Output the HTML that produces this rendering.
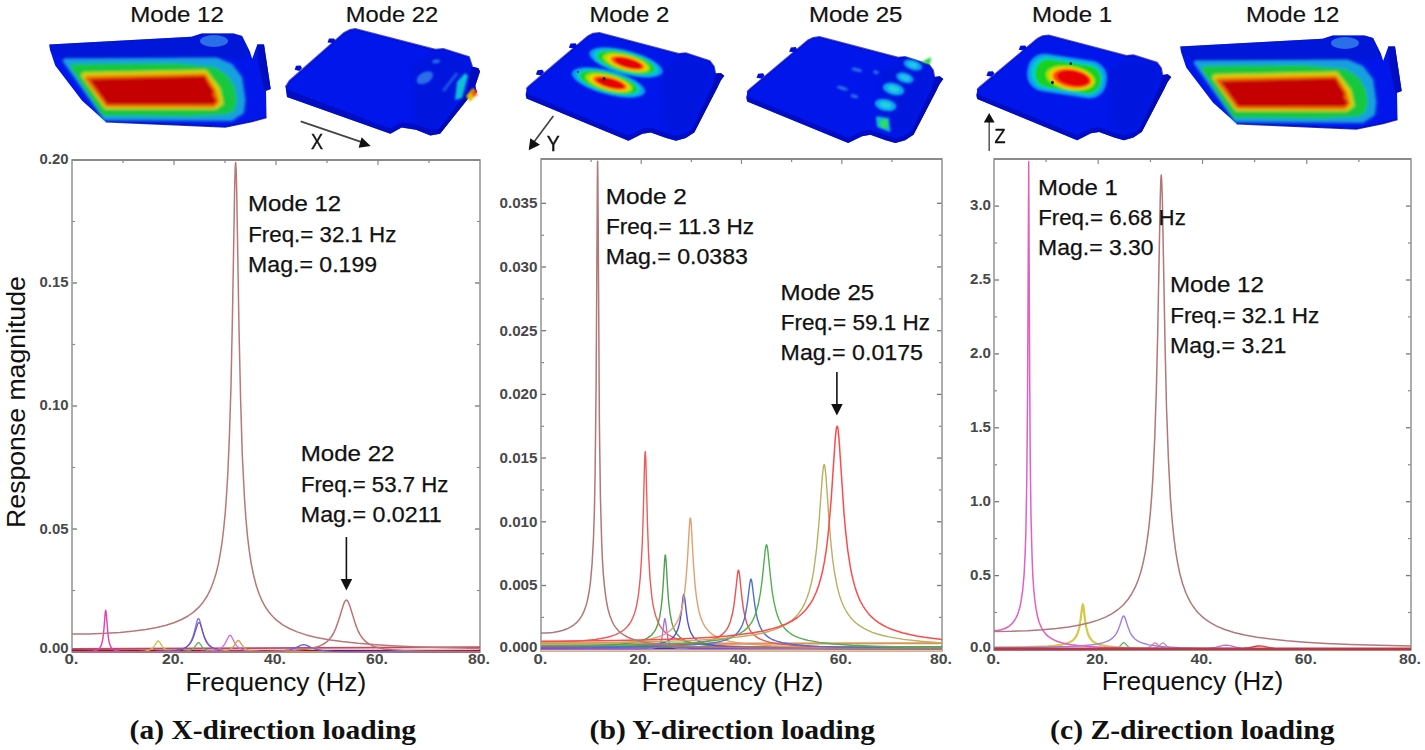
<!DOCTYPE html>
<html><head><meta charset="utf-8"><style>
html,body{margin:0;padding:0;background:#fff;overflow:hidden;}
svg{display:block;}
</style></head><body>
<svg width="1425" height="750" viewBox="0 0 1425 750">
<rect width="1425" height="750" fill="#fff"/>
<line x1="72.0" y1="529.0" x2="77.0" y2="529.0" stroke="#777" stroke-width="1.3"/>
<line x1="480.0" y1="529.0" x2="475.0" y2="529.0" stroke="#777" stroke-width="1.3"/>
<line x1="72.0" y1="406.0" x2="77.0" y2="406.0" stroke="#777" stroke-width="1.3"/>
<line x1="480.0" y1="406.0" x2="475.0" y2="406.0" stroke="#777" stroke-width="1.3"/>
<line x1="72.0" y1="283.0" x2="77.0" y2="283.0" stroke="#777" stroke-width="1.3"/>
<line x1="480.0" y1="283.0" x2="475.0" y2="283.0" stroke="#777" stroke-width="1.3"/>
<line x1="72.0" y1="160.0" x2="77.0" y2="160.0" stroke="#777" stroke-width="1.3"/>
<line x1="480.0" y1="160.0" x2="475.0" y2="160.0" stroke="#777" stroke-width="1.3"/>
<line x1="72.0" y1="590.5" x2="75.0" y2="590.5" stroke="#888" stroke-width="1.2"/>
<line x1="480.0" y1="590.5" x2="477.0" y2="590.5" stroke="#888" stroke-width="1.2"/>
<line x1="72.0" y1="467.5" x2="75.0" y2="467.5" stroke="#888" stroke-width="1.2"/>
<line x1="480.0" y1="467.5" x2="477.0" y2="467.5" stroke="#888" stroke-width="1.2"/>
<line x1="72.0" y1="344.5" x2="75.0" y2="344.5" stroke="#888" stroke-width="1.2"/>
<line x1="480.0" y1="344.5" x2="477.0" y2="344.5" stroke="#888" stroke-width="1.2"/>
<line x1="72.0" y1="221.5" x2="75.0" y2="221.5" stroke="#888" stroke-width="1.2"/>
<line x1="480.0" y1="221.5" x2="477.0" y2="221.5" stroke="#888" stroke-width="1.2"/>
<line x1="123.0" y1="160.0" x2="123.0" y2="163.0" stroke="#888" stroke-width="1.2"/>
<line x1="174.0" y1="160.0" x2="174.0" y2="165.0" stroke="#888" stroke-width="1.2"/>
<line x1="225.0" y1="160.0" x2="225.0" y2="163.0" stroke="#888" stroke-width="1.2"/>
<line x1="276.0" y1="160.0" x2="276.0" y2="165.0" stroke="#888" stroke-width="1.2"/>
<line x1="327.0" y1="160.0" x2="327.0" y2="163.0" stroke="#888" stroke-width="1.2"/>
<line x1="378.0" y1="160.0" x2="378.0" y2="165.0" stroke="#888" stroke-width="1.2"/>
<line x1="429.0" y1="160.0" x2="429.0" y2="163.0" stroke="#888" stroke-width="1.2"/>
<rect x="72.0" y="160.0" width="408.0" height="492.0" fill="none" stroke="#999" stroke-width="1.6"/>
<line x1="72.0" y1="160.0" x2="480.0" y2="160.0" stroke="#808080" stroke-width="1.6"/>
<line x1="541.0" y1="649.2" x2="546.0" y2="649.2" stroke="#777" stroke-width="1.3"/>
<line x1="942.0" y1="649.2" x2="937.0" y2="649.2" stroke="#777" stroke-width="1.3"/>
<line x1="541.0" y1="585.5" x2="546.0" y2="585.5" stroke="#777" stroke-width="1.3"/>
<line x1="942.0" y1="585.5" x2="937.0" y2="585.5" stroke="#777" stroke-width="1.3"/>
<line x1="541.0" y1="521.8" x2="546.0" y2="521.8" stroke="#777" stroke-width="1.3"/>
<line x1="942.0" y1="521.8" x2="937.0" y2="521.8" stroke="#777" stroke-width="1.3"/>
<line x1="541.0" y1="458.1" x2="546.0" y2="458.1" stroke="#777" stroke-width="1.3"/>
<line x1="942.0" y1="458.1" x2="937.0" y2="458.1" stroke="#777" stroke-width="1.3"/>
<line x1="541.0" y1="394.4" x2="546.0" y2="394.4" stroke="#777" stroke-width="1.3"/>
<line x1="942.0" y1="394.4" x2="937.0" y2="394.4" stroke="#777" stroke-width="1.3"/>
<line x1="541.0" y1="330.7" x2="546.0" y2="330.7" stroke="#777" stroke-width="1.3"/>
<line x1="942.0" y1="330.7" x2="937.0" y2="330.7" stroke="#777" stroke-width="1.3"/>
<line x1="541.0" y1="267.0" x2="546.0" y2="267.0" stroke="#777" stroke-width="1.3"/>
<line x1="942.0" y1="267.0" x2="937.0" y2="267.0" stroke="#777" stroke-width="1.3"/>
<line x1="541.0" y1="203.3" x2="546.0" y2="203.3" stroke="#777" stroke-width="1.3"/>
<line x1="942.0" y1="203.3" x2="937.0" y2="203.3" stroke="#777" stroke-width="1.3"/>
<line x1="541.0" y1="617.4" x2="544.0" y2="617.4" stroke="#888" stroke-width="1.2"/>
<line x1="942.0" y1="617.4" x2="939.0" y2="617.4" stroke="#888" stroke-width="1.2"/>
<line x1="541.0" y1="553.7" x2="544.0" y2="553.7" stroke="#888" stroke-width="1.2"/>
<line x1="942.0" y1="553.7" x2="939.0" y2="553.7" stroke="#888" stroke-width="1.2"/>
<line x1="541.0" y1="490.0" x2="544.0" y2="490.0" stroke="#888" stroke-width="1.2"/>
<line x1="942.0" y1="490.0" x2="939.0" y2="490.0" stroke="#888" stroke-width="1.2"/>
<line x1="541.0" y1="426.3" x2="544.0" y2="426.3" stroke="#888" stroke-width="1.2"/>
<line x1="942.0" y1="426.3" x2="939.0" y2="426.3" stroke="#888" stroke-width="1.2"/>
<line x1="541.0" y1="362.6" x2="544.0" y2="362.6" stroke="#888" stroke-width="1.2"/>
<line x1="942.0" y1="362.6" x2="939.0" y2="362.6" stroke="#888" stroke-width="1.2"/>
<line x1="541.0" y1="298.9" x2="544.0" y2="298.9" stroke="#888" stroke-width="1.2"/>
<line x1="942.0" y1="298.9" x2="939.0" y2="298.9" stroke="#888" stroke-width="1.2"/>
<line x1="541.0" y1="235.2" x2="544.0" y2="235.2" stroke="#888" stroke-width="1.2"/>
<line x1="942.0" y1="235.2" x2="939.0" y2="235.2" stroke="#888" stroke-width="1.2"/>
<line x1="591.1" y1="159.0" x2="591.1" y2="162.0" stroke="#888" stroke-width="1.2"/>
<line x1="641.2" y1="159.0" x2="641.2" y2="164.0" stroke="#888" stroke-width="1.2"/>
<line x1="691.4" y1="159.0" x2="691.4" y2="162.0" stroke="#888" stroke-width="1.2"/>
<line x1="741.5" y1="159.0" x2="741.5" y2="164.0" stroke="#888" stroke-width="1.2"/>
<line x1="791.6" y1="159.0" x2="791.6" y2="162.0" stroke="#888" stroke-width="1.2"/>
<line x1="841.8" y1="159.0" x2="841.8" y2="164.0" stroke="#888" stroke-width="1.2"/>
<line x1="891.9" y1="159.0" x2="891.9" y2="162.0" stroke="#888" stroke-width="1.2"/>
<rect x="541.0" y="159.0" width="401.0" height="492.0" fill="none" stroke="#999" stroke-width="1.6"/>
<line x1="541.0" y1="159.0" x2="942.0" y2="159.0" stroke="#808080" stroke-width="1.6"/>
<line x1="994.0" y1="649.5" x2="999.0" y2="649.5" stroke="#777" stroke-width="1.3"/>
<line x1="1411.0" y1="649.5" x2="1406.0" y2="649.5" stroke="#777" stroke-width="1.3"/>
<line x1="994.0" y1="575.6" x2="999.0" y2="575.6" stroke="#777" stroke-width="1.3"/>
<line x1="1411.0" y1="575.6" x2="1406.0" y2="575.6" stroke="#777" stroke-width="1.3"/>
<line x1="994.0" y1="501.7" x2="999.0" y2="501.7" stroke="#777" stroke-width="1.3"/>
<line x1="1411.0" y1="501.7" x2="1406.0" y2="501.7" stroke="#777" stroke-width="1.3"/>
<line x1="994.0" y1="427.8" x2="999.0" y2="427.8" stroke="#777" stroke-width="1.3"/>
<line x1="1411.0" y1="427.8" x2="1406.0" y2="427.8" stroke="#777" stroke-width="1.3"/>
<line x1="994.0" y1="353.9" x2="999.0" y2="353.9" stroke="#777" stroke-width="1.3"/>
<line x1="1411.0" y1="353.9" x2="1406.0" y2="353.9" stroke="#777" stroke-width="1.3"/>
<line x1="994.0" y1="280.0" x2="999.0" y2="280.0" stroke="#777" stroke-width="1.3"/>
<line x1="1411.0" y1="280.0" x2="1406.0" y2="280.0" stroke="#777" stroke-width="1.3"/>
<line x1="994.0" y1="206.1" x2="999.0" y2="206.1" stroke="#777" stroke-width="1.3"/>
<line x1="1411.0" y1="206.1" x2="1406.0" y2="206.1" stroke="#777" stroke-width="1.3"/>
<line x1="994.0" y1="612.5" x2="997.0" y2="612.5" stroke="#888" stroke-width="1.2"/>
<line x1="1411.0" y1="612.5" x2="1408.0" y2="612.5" stroke="#888" stroke-width="1.2"/>
<line x1="994.0" y1="538.6" x2="997.0" y2="538.6" stroke="#888" stroke-width="1.2"/>
<line x1="1411.0" y1="538.6" x2="1408.0" y2="538.6" stroke="#888" stroke-width="1.2"/>
<line x1="994.0" y1="464.8" x2="997.0" y2="464.8" stroke="#888" stroke-width="1.2"/>
<line x1="1411.0" y1="464.8" x2="1408.0" y2="464.8" stroke="#888" stroke-width="1.2"/>
<line x1="994.0" y1="390.8" x2="997.0" y2="390.8" stroke="#888" stroke-width="1.2"/>
<line x1="1411.0" y1="390.8" x2="1408.0" y2="390.8" stroke="#888" stroke-width="1.2"/>
<line x1="994.0" y1="316.9" x2="997.0" y2="316.9" stroke="#888" stroke-width="1.2"/>
<line x1="1411.0" y1="316.9" x2="1408.0" y2="316.9" stroke="#888" stroke-width="1.2"/>
<line x1="994.0" y1="243.0" x2="997.0" y2="243.0" stroke="#888" stroke-width="1.2"/>
<line x1="1411.0" y1="243.0" x2="1408.0" y2="243.0" stroke="#888" stroke-width="1.2"/>
<line x1="1046.1" y1="159.0" x2="1046.1" y2="162.0" stroke="#888" stroke-width="1.2"/>
<line x1="1098.2" y1="159.0" x2="1098.2" y2="164.0" stroke="#888" stroke-width="1.2"/>
<line x1="1150.4" y1="159.0" x2="1150.4" y2="162.0" stroke="#888" stroke-width="1.2"/>
<line x1="1202.5" y1="159.0" x2="1202.5" y2="164.0" stroke="#888" stroke-width="1.2"/>
<line x1="1254.6" y1="159.0" x2="1254.6" y2="162.0" stroke="#888" stroke-width="1.2"/>
<line x1="1306.8" y1="159.0" x2="1306.8" y2="164.0" stroke="#888" stroke-width="1.2"/>
<line x1="1358.9" y1="159.0" x2="1358.9" y2="162.0" stroke="#888" stroke-width="1.2"/>
<rect x="994.0" y="159.0" width="417.0" height="491.0" fill="none" stroke="#999" stroke-width="1.6"/>
<line x1="994.0" y1="159.0" x2="1411.0" y2="159.0" stroke="#808080" stroke-width="1.6"/>
<g><path d="M72.0,649.0L480.0,647.1" fill="none" stroke="#c04860" stroke-width="1.80" stroke-linejoin="round"/>
<path d="M72.0,651.3L480.0,651.3" fill="none" stroke="#8a1535" stroke-width="3.20" stroke-linejoin="round"/>
<path d="M72.0,651.9L85.8,651.6L92.9,651.1L95.5,650.5L97.2,649.9L98.8,648.9L99.8,647.9L100.8,646.2L101.6,644.3L102.9,638.5L103.9,629.4L105.2,612.9L105.7,610.2L106.2,612.9L108.0,634.6L108.7,640.0L109.7,644.3L111.0,647.2L112.0,648.5L113.1,649.3L115.6,650.5L119.7,651.2L131.2,651.8L158.2,651.9L480.0,652.0" fill="none" stroke="#e040b0" stroke-width="1.40" stroke-linejoin="round"/>
<path d="M72.0,652.0L127.6,651.8L138.3,651.6L144.7,651.1L149.0,650.2L150.5,649.5L152.1,648.6L154.1,646.5L157.2,641.6L157.7,641.1L158.2,640.9L158.7,641.1L159.5,641.9L161.8,645.7L163.0,647.4L164.3,648.6L165.8,649.5L168.1,650.4L170.9,651.0L179.6,651.6L194.1,651.9L224.0,652.0L480.0,652.0" fill="none" stroke="#c8c040" stroke-width="1.30" stroke-linejoin="round"/>
<path d="M72.0,651.9L128.9,651.8L156.4,651.5L171.7,650.8L176.8,650.2L180.6,649.5L183.9,648.3L186.5,646.9L188.8,644.7L190.6,642.2L192.1,638.9L193.4,635.3L197.2,620.5L198.0,618.9L198.5,618.5L199.2,619.3L200.0,621.3L202.8,632.6L204.3,637.6L205.9,641.2L207.7,644.1L210.0,646.5L213.0,648.3L216.8,649.6L222.2,650.5L228.6,651.1L237.0,651.4L265.5,651.8L480.0,652.0" fill="none" stroke="#8080e0" stroke-width="1.40" stroke-linejoin="round"/>
<path d="M72.0,651.9L127.8,651.8L155.4,651.5L170.9,650.9L176.0,650.3L180.1,649.6L183.4,648.6L186.2,647.2L188.5,645.4L190.3,643.3L191.9,640.7L193.4,637.2L197.5,624.5L198.2,623.0L199.0,622.5L199.8,623.0L200.5,624.5L203.8,635.1L205.4,639.1L207.2,642.5L208.9,644.9L211.5,647.0L214.8,648.7L218.9,649.8L224.2,650.6L230.9,651.1L239.5,651.4L268.9,651.8L480.0,652.0" fill="none" stroke="#7050b0" stroke-width="1.20" stroke-linejoin="round"/>
<path d="M72.0,652.0L160.0,651.9L174.8,651.7L182.9,651.4L188.3,650.7L190.3,650.1L191.9,649.4L193.9,647.9L197.2,643.5L198.0,642.8L198.5,642.7L199.0,642.8L199.8,643.5L202.0,646.7L203.3,648.1L204.6,649.1L206.1,649.9L208.2,650.6L211.0,651.1L219.1,651.6L259.7,652.0L480.0,652.0" fill="none" stroke="#60b060" stroke-width="1.30" stroke-linejoin="round"/>
<path d="M72.0,652.0L182.2,651.8L200.5,651.5L210.7,650.9L214.5,650.4L217.6,649.6L219.9,648.7L221.9,647.3L223.5,645.8L225.0,643.6L228.8,636.3L229.6,635.4L230.1,635.3L230.9,635.6L231.6,636.7L234.4,642.3L236.0,644.8L237.5,646.6L239.0,647.9L241.3,649.1L244.1,650.0L248.0,650.7L252.8,651.2L266.6,651.7L292.6,651.9L480.0,652.0" fill="none" stroke="#d070d0" stroke-width="1.30" stroke-linejoin="round"/>
<path d="M72.0,652.0L191.1,651.9L209.7,651.7L219.9,651.3L223.7,651.0L226.5,650.5L228.8,649.8L230.6,648.9L231.9,648.1L233.2,646.8L237.0,641.3L237.8,640.6L238.3,640.4L238.8,640.6L239.5,641.3L242.1,645.2L243.6,647.1L244.9,648.3L246.4,649.2L248.5,650.1L251.3,650.7L259.2,651.5L271.9,651.8L296.9,651.9L480.0,652.0" fill="none" stroke="#d0a050" stroke-width="1.30" stroke-linejoin="round"/>
<path d="M72.0,652.0L227.3,651.9L255.1,651.7L271.4,651.4L282.1,650.9L289.3,649.8L294.4,648.3L301.2,645.1L303.5,644.6L304.8,644.8L306.1,645.1L312.5,648.2L317.3,649.7L323.7,650.7L332.6,651.3L346.1,651.7L368.3,651.9L480.0,652.0" fill="none" stroke="#6060e0" stroke-width="1.30" stroke-linejoin="round"/>
<path d="M72.0,651.9L200.3,651.8L260.2,651.4L278.8,651.0L292.6,650.4L303.0,649.5L310.9,648.4L317.6,646.7L320.4,645.7L322.9,644.4L325.2,643.0L327.3,641.4L329.0,639.6L330.8,637.5L333.4,633.5L335.7,628.6L338.2,621.6L343.6,604.1L345.1,601.0L345.9,600.2L346.4,600.1L346.9,600.2L347.7,601.0L348.9,603.5L350.2,607.1L355.6,624.6L357.6,629.8L359.9,634.4L362.7,638.5L365.8,641.6L369.3,644.1L373.4,646.1L378.5,647.7L384.6,648.9L392.3,649.8L402.2,650.5L414.5,651.0L430.3,651.3L480.0,651.7" fill="none" stroke="#c07070" stroke-width="1.50" stroke-linejoin="round"/>
<path d="M72.0,634.1L88.8,633.9L105.2,633.3L120.2,632.4L134.0,631.1L145.9,629.5L156.7,627.6L166.1,625.3L174.5,622.5L181.6,619.5L188.0,616.0L193.6,612.1L198.7,607.4L203.3,601.9L207.2,596.0L210.5,589.4L213.5,581.6L216.1,573.3L218.4,563.9L220.4,553.1L222.2,541.3L223.7,528.5L225.3,512.4L226.5,495.3L227.8,473.7L229.3,438.9L230.9,389.6L232.4,318.9L234.7,185.8L235.2,167.9L235.5,163.5L235.7,162.5L236.2,170.9L236.7,191.3L239.0,328.5L240.6,399.3L242.3,455.1L244.4,496.7L245.9,518.5L247.4,535.3L249.2,550.4L251.3,563.8L253.6,575.3L256.1,585.1L259.2,594.2L262.5,601.7L264.5,605.5L266.6,608.8L268.9,612.0L271.2,614.8L273.7,617.5L276.5,620.1L282.4,624.6L289.3,628.5L297.2,631.9L306.1,634.9L316.5,637.5L328.5,639.7L342.0,641.6L357.9,643.3L376.0,644.7L396.6,645.9L420.6,646.9L448.1,647.8L480.0,648.6" fill="none" stroke="#b87878" stroke-width="1.50" stroke-linejoin="round"/></g>
<g><path d="M541.0,650.7L942.0,650.7" fill="none" stroke="#f0c090" stroke-width="1.80" stroke-linejoin="round"/>
<path d="M541.0,648.9L942.0,647.9" fill="none" stroke="#5030a0" stroke-width="1.80" stroke-linejoin="round"/>
<path d="M541.0,647.0L942.0,647.0" fill="none" stroke="#407040" stroke-width="1.70" stroke-linejoin="round"/>
<path d="M541.0,645.0L942.0,643.0" fill="none" stroke="#d0b080" stroke-width="1.70" stroke-linejoin="round"/>
<path d="M541.0,643.3L942.0,643.3" fill="none" stroke="#e09050" stroke-width="1.70" stroke-linejoin="round"/>
<path d="M541.0,642.1L562.3,641.8L580.6,640.9L595.1,639.5L601.1,638.5L606.4,637.5L611.2,636.2L615.2,634.8L618.7,633.2L622.0,631.3L624.7,629.3L627.2,626.8L629.2,624.3L631.2,621.1L632.7,618.0L634.2,614.2L635.5,610.1L636.7,604.8L637.7,599.5L638.7,592.6L640.2,578.0L641.2,563.6L642.3,542.7L643.3,512.3L644.5,464.7L645.0,453.0L645.3,451.7L645.8,459.3L647.5,524.8L648.5,552.5L650.0,578.6L651.8,596.3L653.0,604.6L654.3,610.7L655.8,616.3L657.8,621.6L659.8,625.6L662.3,629.2L665.3,632.4L668.6,635.0L672.6,637.2L677.3,639.2L682.9,640.9L689.1,642.2L696.6,643.4L705.4,644.4L715.7,645.3L727.7,646.0L758.0,647.1L800.1,647.8L858.8,648.3L942.0,648.7" fill="none" stroke="#f05a5a" stroke-width="1.40" stroke-linejoin="round"/>
<path d="M541.0,649.2L635.2,649.0L647.8,648.7L651.5,648.3L654.3,647.9L656.5,647.1L658.3,645.9L659.8,644.1L660.8,641.9L661.6,639.3L662.3,635.5L664.1,621.7L664.6,619.0L664.8,618.6L665.1,619.0L665.6,621.7L667.6,636.9L668.3,640.3L669.3,643.1L670.8,645.4L672.6,646.8L675.1,647.8L678.6,648.4L688.9,648.9L711.7,649.1L942.0,649.2" fill="none" stroke="#a070e0" stroke-width="1.30" stroke-linejoin="round"/>
<path d="M541.0,646.2L567.1,646.0L589.4,645.6L606.9,645.0L620.4,644.1L630.7,642.9L638.7,641.3L642.0,640.3L644.8,639.3L647.3,638.1L649.5,636.6L651.3,635.2L653.0,633.3L654.5,631.3L655.8,629.1L657.0,626.4L658.0,623.5L659.8,616.4L661.0,608.5L662.1,599.2L663.1,586.0L664.6,560.5L665.1,555.5L665.3,554.9L665.6,555.9L666.1,561.5L667.6,587.7L668.8,603.5L670.1,613.6L671.8,622.4L673.1,626.6L674.3,629.6L675.8,632.4L677.8,635.1L679.8,637.1L682.4,639.0L685.4,640.6L688.6,641.9L692.6,643.0L697.1,644.0L708.4,645.5L724.0,646.6L745.3,647.4L773.8,648.0L813.2,648.4L942.0,648.9" fill="none" stroke="#50a050" stroke-width="1.40" stroke-linejoin="round"/>
<path d="M541.0,647.4L596.6,647.1L616.9,646.8L632.5,646.2L644.3,645.5L653.3,644.6L660.3,643.4L665.8,641.8L669.8,639.9L671.6,638.7L673.1,637.4L675.6,634.1L677.6,630.0L678.8,626.0L680.1,620.3L681.4,611.8L683.1,596.9L683.6,594.6L683.9,594.4L684.1,594.8L684.6,597.4L686.4,612.8L687.6,621.2L689.1,627.8L690.1,630.9L691.1,633.2L692.4,635.4L693.6,637.2L695.4,639.0L697.1,640.3L699.1,641.5L701.7,642.6L704.7,643.6L707.9,644.4L716.2,645.7L727.2,646.7L742.3,647.4L762.3,647.9L825.5,648.6L942.0,648.9" fill="none" stroke="#5050e0" stroke-width="1.40" stroke-linejoin="round"/>
<path d="M541.0,644.5L571.6,644.3L597.9,643.7L618.7,642.7L635.0,641.4L647.3,639.6L652.5,638.5L657.0,637.3L661.0,635.9L664.6,634.3L667.6,632.5L670.3,630.5L672.6,628.3L674.6,625.9L676.3,623.2L678.1,619.9L679.6,616.2L680.8,612.3L682.1,607.4L683.1,602.4L684.6,592.4L686.1,577.9L687.4,560.5L689.4,525.5L689.9,519.8L690.1,518.3L690.4,518.0L690.9,520.6L691.4,527.0L693.4,563.0L694.9,583.3L696.4,596.9L698.4,608.7L699.6,613.8L701.1,618.6L702.9,622.8L704.9,626.5L707.2,629.6L709.7,632.2L712.7,634.6L716.2,636.7L720.2,638.5L724.7,640.0L730.0,641.4L736.0,642.5L743.0,643.5L751.0,644.4L770.8,645.7L797.1,646.8L832.2,647.5L879.1,648.1L942.0,648.4" fill="none" stroke="#e0a070" stroke-width="1.40" stroke-linejoin="round"/>
<path d="M541.0,646.8L582.9,646.7L618.7,646.4L646.8,645.9L668.3,645.1L684.6,644.2L697.1,642.9L706.7,641.2L710.7,640.2L714.2,639.0L717.2,637.7L719.9,636.1L722.2,634.4L724.2,632.5L726.0,630.4L727.5,628.1L729.0,625.1L730.2,621.9L732.2,614.8L733.7,606.8L735.2,595.4L737.5,574.0L738.0,571.1L738.2,570.4L738.5,570.2L739.0,571.5L739.5,574.7L741.8,596.7L743.3,608.1L744.8,616.1L746.8,623.2L748.0,626.3L749.5,629.3L751.0,631.6L752.8,633.7L754.8,635.6L757.0,637.3L759.8,638.9L762.8,640.2L766.3,641.4L770.3,642.4L779.8,644.1L792.4,645.4L808.9,646.4L830.2,647.1L858.0,647.7L942.0,648.4" fill="none" stroke="#f05050" stroke-width="1.40" stroke-linejoin="round"/>
<path d="M541.0,647.1L623.7,646.7L653.3,646.3L676.3,645.6L693.6,644.7L706.9,643.6L717.2,642.1L721.5,641.2L725.2,640.1L728.5,638.9L731.2,637.6L733.7,636.1L735.7,634.5L737.7,632.5L739.5,630.2L741.0,627.6L742.3,625.0L744.3,619.1L746.0,611.3L747.5,601.8L749.8,583.7L750.5,579.8L750.8,579.3L751.0,579.1L751.5,580.2L752.0,582.7L754.5,602.9L756.0,612.5L757.5,619.3L759.5,625.4L760.8,628.2L762.3,630.9L763.8,633.0L765.6,634.9L767.6,636.6L769.8,638.1L772.3,639.5L775.3,640.7L778.8,641.8L782.6,642.7L791.9,644.3L803.9,645.5L819.2,646.4L839.2,647.1L865.1,647.7L942.0,648.4" fill="none" stroke="#5070d0" stroke-width="1.40" stroke-linejoin="round"/>
<path d="M541.0,645.6L587.6,645.5L627.7,645.0L659.3,644.3L683.9,643.3L702.4,641.9L716.9,640.2L723.0,639.1L728.2,637.8L733.0,636.4L737.0,634.8L740.5,633.0L743.5,631.1L746.3,628.9L748.8,626.2L750.8,623.6L752.8,620.3L754.5,616.5L756.0,612.5L758.3,604.3L760.3,593.7L762.1,580.6L765.3,549.4L766.1,545.4L766.3,544.8L766.6,544.7L767.1,545.8L767.8,550.4L770.6,577.9L772.3,592.3L774.1,602.7L776.1,611.1L777.3,615.1L778.8,619.0L780.6,622.6L782.4,625.4L784.4,628.1L786.6,630.4L789.1,632.5L792.1,634.6L795.4,636.3L799.1,637.8L803.4,639.2L808.2,640.4L819.4,642.4L833.7,644.0L852.0,645.3L875.1,646.2L904.4,647.0L942.0,647.6" fill="none" stroke="#50b050" stroke-width="1.40" stroke-linejoin="round"/>
<path d="M541.0,642.9L599.4,642.6L649.5,641.8L689.1,640.6L705.7,639.7L720.2,638.7L732.7,637.6L743.8,636.3L753.5,634.8L762.1,633.2L769.6,631.2L776.1,629.1L781.9,626.6L787.1,623.7L791.4,620.7L795.4,617.1L798.9,613.0L801.9,608.6L804.7,603.4L807.2,597.3L809.2,591.2L811.2,583.5L812.7,576.3L813.9,569.1L816.4,550.2L818.7,526.0L822.5,474.6L823.5,466.2L824.0,464.6L824.2,464.5L824.5,464.9L825.0,467.2L826.0,476.6L829.2,522.9L831.0,543.8L832.7,560.0L834.5,572.5L837.0,585.7L838.5,591.8L840.0,596.9L841.8,601.9L843.5,606.0L845.5,610.0L847.8,613.7L850.3,617.2L853.3,620.5L856.3,623.3L859.8,625.9L863.6,628.2L867.8,630.4L872.3,632.3L877.3,634.0L882.9,635.5L889.1,636.9L903.4,639.4L920.7,641.3L942.0,643.0" fill="none" stroke="#b8b060" stroke-width="1.40" stroke-linejoin="round"/>
<path d="M541.0,641.2L601.1,640.8L653.3,639.8L675.1,639.1L694.6,638.2L711.9,637.2L727.0,636.0L740.0,634.6L751.5,633.0L761.8,631.2L770.8,629.1L778.8,626.7L785.9,624.0L791.9,621.0L797.4,617.5L802.2,613.5L806.2,609.3L809.9,604.3L813.2,598.8L816.2,592.3L818.7,585.4L820.9,577.7L823.0,569.1L824.5,561.2L826.0,551.7L827.5,540.2L828.7,528.7L831.2,499.1L835.2,439.2L836.2,429.4L836.7,426.9L837.0,426.3L837.2,426.2L837.5,426.7L838.0,429.0L839.0,438.6L844.0,513.4L845.8,533.1L847.8,550.6L850.3,566.8L851.8,574.5L853.3,580.9L854.8,586.4L856.5,591.8L858.5,597.1L860.5,601.5L863.1,606.1L865.6,609.9L868.3,613.4L871.6,616.9L874.8,619.8L878.6,622.6L882.6,625.0L887.1,627.4L892.1,629.5L897.4,631.3L903.2,633.0L909.7,634.6L916.7,636.0L924.5,637.3L942.0,639.6" fill="none" stroke="#ff4a4a" stroke-width="1.50" stroke-linejoin="round"/>
<path d="M541.0,633.1L547.0,632.9L552.8,632.4L558.3,631.4L563.1,630.2L567.1,628.8L570.8,626.9L574.1,624.8L577.1,622.1L579.6,619.2L581.9,615.7L583.6,612.2L585.4,607.6L586.9,602.6L588.1,597.1L589.4,590.0L590.4,582.6L592.1,563.4L593.4,540.4L594.4,510.4L595.1,474.4L596.1,387.2L597.4,175.9L597.6,161.3L597.9,179.9L599.4,424.0L600.4,496.6L601.7,542.4L602.4,559.2L603.4,575.0L604.7,588.6L606.2,599.8L607.9,608.7L609.9,615.8L612.4,622.0L613.9,624.8L615.4,627.1L617.2,629.3L618.9,631.2L620.9,633.0L623.2,634.7L628.2,637.5L634.2,639.8L641.5,641.7L650.3,643.3L660.8,644.6L673.3,645.6L688.1,646.4L706.2,647.1L754.8,648.0L827.7,648.5L942.0,648.9" fill="none" stroke="#b07878" stroke-width="1.50" stroke-linejoin="round"/></g>
<g><path d="M994.0,649.5L1086.5,649.4L1109.2,649.1L1114.4,648.6L1117.8,647.6L1119.6,646.5L1122.7,643.1L1123.8,642.6L1124.8,643.1L1128.0,646.5L1129.3,647.4L1130.6,647.9L1132.4,648.4L1135.0,648.8L1143.1,649.3L1183.0,649.5L1411.0,649.5" fill="none" stroke="#50c060" stroke-width="1.30" stroke-linejoin="round"/>
<path d="M994.0,649.5L1110.2,649.4L1137.9,649.1L1144.1,648.7L1148.0,647.8L1150.4,646.6L1153.8,643.4L1154.5,643.0L1155.1,642.8L1155.6,643.0L1156.4,643.4L1158.7,645.7L1160.0,646.7L1162.6,647.9L1167.3,648.8L1175.1,649.2L1213.2,649.5L1411.0,649.5" fill="none" stroke="#e070a0" stroke-width="1.30" stroke-linejoin="round"/>
<path d="M994.0,649.5L1117.0,649.4L1145.4,649.1L1151.9,648.7L1155.8,647.8L1158.2,646.6L1161.6,643.4L1162.4,643.0L1162.9,642.8L1163.4,643.0L1164.2,643.4L1166.5,645.7L1167.8,646.7L1170.4,647.9L1175.1,648.8L1182.7,649.2L1220.0,649.5L1411.0,649.5" fill="none" stroke="#b090c0" stroke-width="1.30" stroke-linejoin="round"/>
<path d="M994.0,649.5L1145.7,649.4L1191.0,649.1L1202.2,648.8L1210.1,648.2L1215.5,647.3L1223.3,645.3L1226.0,645.1L1228.8,645.4L1236.1,647.2L1241.3,648.1L1248.4,648.7L1258.0,649.1L1296.1,649.4L1411.0,649.5" fill="none" stroke="#c070d0" stroke-width="1.30" stroke-linejoin="round"/>
<path d="M994.0,649.5L1172.5,649.4L1223.1,649.2L1235.3,648.9L1243.4,648.4L1249.2,647.7L1257.2,646.0L1259.8,645.8L1262.7,646.1L1269.7,647.6L1274.7,648.3L1280.9,648.8L1289.5,649.1L1321.9,649.4L1411.0,649.5" fill="none" stroke="#d04040" stroke-width="1.30" stroke-linejoin="round"/>
<path d="M994.0,647.5L1026.3,647.2L1047.9,646.4L1055.2,645.7L1061.2,644.9L1065.9,643.8L1069.6,642.4L1072.4,640.7L1074.5,638.7L1076.4,636.0L1077.9,632.4L1079.0,628.8L1079.7,625.1L1080.8,618.1L1082.1,607.3L1082.6,604.7L1082.9,604.4L1083.4,606.2L1085.2,621.2L1086.3,627.5L1087.8,633.5L1089.6,637.5L1091.0,639.4L1092.3,640.8L1093.8,642.0L1095.9,643.3L1098.2,644.3L1100.9,645.1L1107.9,646.4L1117.3,647.4L1130.0,648.0L1147.8,648.5L1172.0,648.8L1251.8,649.2L1411.0,649.4" fill="none" stroke="#d8c848" stroke-width="2.20" stroke-linejoin="round"/>
<path d="M994.0,647.5L1037.8,647.2L1068.5,646.5L1079.5,646.0L1088.3,645.2L1095.4,644.4L1101.1,643.3L1105.5,641.9L1109.2,640.3L1112.1,638.4L1114.7,635.8L1116.2,633.6L1117.8,630.7L1119.4,626.8L1122.2,618.0L1123.0,616.4L1123.5,616.0L1123.8,615.9L1124.3,616.4L1125.1,618.0L1128.0,627.1L1130.0,632.3L1132.1,635.8L1134.7,638.8L1136.6,640.2L1138.4,641.3L1143.1,643.3L1149.1,644.9L1156.6,646.0L1166.8,646.9L1180.1,647.6L1197.5,648.1L1220.5,648.5L1289.5,649.0L1411.0,649.3" fill="none" stroke="#a080e0" stroke-width="1.40" stroke-linejoin="round"/>
<path d="M994.0,630.6L997.6,630.4L1001.0,629.8L1004.2,628.8L1007.0,627.5L1009.6,625.8L1011.7,623.9L1013.8,621.5L1015.6,618.6L1017.2,615.4L1018.5,611.9L1019.8,607.3L1020.8,602.6L1022.7,590.3L1024.0,575.8L1025.0,557.1L1025.8,534.8L1026.8,479.6L1027.6,388.7L1028.7,161.8L1029.7,380.3L1030.2,455.9L1031.0,516.8L1032.1,557.6L1032.8,575.3L1033.6,587.5L1034.7,599.0L1036.0,608.7L1037.5,616.5L1039.3,622.8L1041.7,628.2L1043.0,630.5L1044.6,632.6L1046.1,634.4L1047.9,636.1L1051.9,638.9L1056.8,641.2L1062.5,643.0L1069.6,644.4L1078.2,645.6L1088.6,646.6L1101.6,647.3L1135.5,648.3L1187.9,648.9L1271.0,649.2L1411.0,649.4" fill="none" stroke="#e060c8" stroke-width="1.50" stroke-linejoin="round"/>
<path d="M994.0,648.9L1411.0,648.9" fill="none" stroke="#b83848" stroke-width="2.80" stroke-linejoin="round"/>
<path d="M994.0,631.5L1011.2,631.3L1027.6,630.7L1042.7,629.8L1056.5,628.5L1068.8,627.0L1079.7,625.1L1089.4,622.8L1098.0,620.1L1105.5,617.1L1112.1,613.6L1117.8,609.7L1123.0,605.2L1127.7,599.8L1131.6,594.0L1135.0,587.7L1138.1,580.2L1141.0,571.3L1143.3,562.1L1145.4,551.6L1147.2,540.1L1148.8,527.8L1150.4,512.3L1151.7,496.1L1153.0,475.6L1154.8,436.5L1156.4,388.2L1157.7,332.9L1160.3,196.0L1160.8,179.9L1161.1,175.9L1161.3,175.1L1161.8,182.7L1162.4,201.3L1165.0,342.6L1166.5,407.3L1168.4,458.9L1170.4,497.9L1172.0,518.7L1173.6,534.8L1175.4,549.4L1177.5,562.3L1179.8,573.5L1182.7,584.0L1185.8,592.7L1189.2,599.9L1191.3,603.6L1193.4,606.8L1195.7,609.9L1198.1,612.7L1200.7,615.3L1203.5,617.9L1209.5,622.2L1216.6,626.1L1224.7,629.5L1234.0,632.5L1244.7,635.0L1257.0,637.2L1270.8,639.1L1286.7,640.8L1305.2,642.2L1326.3,643.4L1350.5,644.4L1378.7,645.3L1411.0,646.0" fill="none" stroke="#b07878" stroke-width="1.50" stroke-linejoin="round"/></g>
<text x="39.5" y="652.5" font-family='"Liberation Sans", sans-serif' font-weight="bold" font-size="14.2" fill="#484848" textLength="29.0" lengthAdjust="spacingAndGlyphs" text-anchor="start">0.00</text>
<text x="39.5" y="534.0" font-family='"Liberation Sans", sans-serif' font-weight="bold" font-size="14.2" fill="#484848" textLength="29.0" lengthAdjust="spacingAndGlyphs" text-anchor="start">0.05</text>
<text x="39.5" y="410.4" font-family='"Liberation Sans", sans-serif' font-weight="bold" font-size="14.2" fill="#484848" textLength="29.0" lengthAdjust="spacingAndGlyphs" text-anchor="start">0.10</text>
<text x="39.5" y="287.4" font-family='"Liberation Sans", sans-serif' font-weight="bold" font-size="14.2" fill="#484848" textLength="29.0" lengthAdjust="spacingAndGlyphs" text-anchor="start">0.15</text>
<text x="39.5" y="164.0" font-family='"Liberation Sans", sans-serif' font-weight="bold" font-size="14.2" fill="#484848" textLength="29.0" lengthAdjust="spacingAndGlyphs" text-anchor="start">0.20</text>
<text x="499.5" y="651.8" font-family='"Liberation Sans", sans-serif' font-weight="bold" font-size="14.2" fill="#484848" textLength="38.0" lengthAdjust="spacingAndGlyphs" text-anchor="start">0.000</text>
<text x="499.5" y="590.3" font-family='"Liberation Sans", sans-serif' font-weight="bold" font-size="14.2" fill="#484848" textLength="38.0" lengthAdjust="spacingAndGlyphs" text-anchor="start">0.005</text>
<text x="499.5" y="526.6" font-family='"Liberation Sans", sans-serif' font-weight="bold" font-size="14.2" fill="#484848" textLength="38.0" lengthAdjust="spacingAndGlyphs" text-anchor="start">0.010</text>
<text x="499.5" y="462.9" font-family='"Liberation Sans", sans-serif' font-weight="bold" font-size="14.2" fill="#484848" textLength="38.0" lengthAdjust="spacingAndGlyphs" text-anchor="start">0.015</text>
<text x="499.5" y="399.2" font-family='"Liberation Sans", sans-serif' font-weight="bold" font-size="14.2" fill="#484848" textLength="38.0" lengthAdjust="spacingAndGlyphs" text-anchor="start">0.020</text>
<text x="499.5" y="335.5" font-family='"Liberation Sans", sans-serif' font-weight="bold" font-size="14.2" fill="#484848" textLength="38.0" lengthAdjust="spacingAndGlyphs" text-anchor="start">0.025</text>
<text x="499.5" y="271.8" font-family='"Liberation Sans", sans-serif' font-weight="bold" font-size="14.2" fill="#484848" textLength="38.0" lengthAdjust="spacingAndGlyphs" text-anchor="start">0.030</text>
<text x="499.5" y="208.1" font-family='"Liberation Sans", sans-serif' font-weight="bold" font-size="14.2" fill="#484848" textLength="38.0" lengthAdjust="spacingAndGlyphs" text-anchor="start">0.035</text>
<text x="970.0" y="651.5" font-family='"Liberation Sans", sans-serif' font-weight="bold" font-size="14.2" fill="#484848" textLength="21.0" lengthAdjust="spacingAndGlyphs" text-anchor="start">0.0</text>
<text x="970.0" y="579.6" font-family='"Liberation Sans", sans-serif' font-weight="bold" font-size="14.2" fill="#484848" textLength="21.0" lengthAdjust="spacingAndGlyphs" text-anchor="start">0.5</text>
<text x="970.0" y="505.7" font-family='"Liberation Sans", sans-serif' font-weight="bold" font-size="14.2" fill="#484848" textLength="21.0" lengthAdjust="spacingAndGlyphs" text-anchor="start">1.0</text>
<text x="970.0" y="431.8" font-family='"Liberation Sans", sans-serif' font-weight="bold" font-size="14.2" fill="#484848" textLength="21.0" lengthAdjust="spacingAndGlyphs" text-anchor="start">1.5</text>
<text x="970.0" y="357.9" font-family='"Liberation Sans", sans-serif' font-weight="bold" font-size="14.2" fill="#484848" textLength="21.0" lengthAdjust="spacingAndGlyphs" text-anchor="start">2.0</text>
<text x="970.0" y="284.0" font-family='"Liberation Sans", sans-serif' font-weight="bold" font-size="14.2" fill="#484848" textLength="21.0" lengthAdjust="spacingAndGlyphs" text-anchor="start">2.5</text>
<text x="970.0" y="210.1" font-family='"Liberation Sans", sans-serif' font-weight="bold" font-size="14.2" fill="#484848" textLength="21.0" lengthAdjust="spacingAndGlyphs" text-anchor="start">3.0</text>
<text x="64.5" y="664.1" font-family='"Liberation Sans", sans-serif' font-weight="bold" font-size="14.2" fill="#484848" textLength="14.0" lengthAdjust="spacingAndGlyphs">0.</text>
<text x="162.0" y="664.1" font-family='"Liberation Sans", sans-serif' font-weight="bold" font-size="14.2" fill="#484848" textLength="22.0" lengthAdjust="spacingAndGlyphs">20.</text>
<text x="264.0" y="664.1" font-family='"Liberation Sans", sans-serif' font-weight="bold" font-size="14.2" fill="#484848" textLength="22.0" lengthAdjust="spacingAndGlyphs">40.</text>
<text x="366.0" y="664.1" font-family='"Liberation Sans", sans-serif' font-weight="bold" font-size="14.2" fill="#484848" textLength="22.0" lengthAdjust="spacingAndGlyphs">60.</text>
<text x="468.0" y="664.1" font-family='"Liberation Sans", sans-serif' font-weight="bold" font-size="14.2" fill="#484848" textLength="22.0" lengthAdjust="spacingAndGlyphs">80.</text>
<text x="533.5" y="664.1" font-family='"Liberation Sans", sans-serif' font-weight="bold" font-size="14.2" fill="#484848" textLength="14.0" lengthAdjust="spacingAndGlyphs">0.</text>
<text x="629.2" y="664.1" font-family='"Liberation Sans", sans-serif' font-weight="bold" font-size="14.2" fill="#484848" textLength="22.0" lengthAdjust="spacingAndGlyphs">20.</text>
<text x="729.5" y="664.1" font-family='"Liberation Sans", sans-serif' font-weight="bold" font-size="14.2" fill="#484848" textLength="22.0" lengthAdjust="spacingAndGlyphs">40.</text>
<text x="829.8" y="664.1" font-family='"Liberation Sans", sans-serif' font-weight="bold" font-size="14.2" fill="#484848" textLength="22.0" lengthAdjust="spacingAndGlyphs">60.</text>
<text x="930.0" y="664.1" font-family='"Liberation Sans", sans-serif' font-weight="bold" font-size="14.2" fill="#484848" textLength="22.0" lengthAdjust="spacingAndGlyphs">80.</text>
<text x="986.5" y="664.1" font-family='"Liberation Sans", sans-serif' font-weight="bold" font-size="14.2" fill="#484848" textLength="14.0" lengthAdjust="spacingAndGlyphs">0.</text>
<text x="1086.2" y="664.1" font-family='"Liberation Sans", sans-serif' font-weight="bold" font-size="14.2" fill="#484848" textLength="22.0" lengthAdjust="spacingAndGlyphs">20.</text>
<text x="1190.5" y="664.1" font-family='"Liberation Sans", sans-serif' font-weight="bold" font-size="14.2" fill="#484848" textLength="22.0" lengthAdjust="spacingAndGlyphs">40.</text>
<text x="1294.8" y="664.1" font-family='"Liberation Sans", sans-serif' font-weight="bold" font-size="14.2" fill="#484848" textLength="22.0" lengthAdjust="spacingAndGlyphs">60.</text>
<text x="1399.0" y="664.1" font-family='"Liberation Sans", sans-serif' font-weight="bold" font-size="14.2" fill="#484848" textLength="22.0" lengthAdjust="spacingAndGlyphs">80.</text>
<text x="185.6" y="691.1" font-family='"Liberation Sans", sans-serif' font-weight="normal" font-size="25.0" fill="#111" textLength="180.6" lengthAdjust="spacingAndGlyphs">Frequency (Hz)</text>
<text x="641.7" y="691.3" font-family='"Liberation Sans", sans-serif' font-weight="normal" font-size="25.0" fill="#111" textLength="181.6" lengthAdjust="spacingAndGlyphs">Frequency (Hz)</text>
<text x="1101.7" y="690.0" font-family='"Liberation Sans", sans-serif' font-weight="normal" font-size="25.0" fill="#111" textLength="181.6" lengthAdjust="spacingAndGlyphs">Frequency (Hz)</text>
<text transform="translate(25.3,527.9) rotate(-90)" font-family='"Liberation Sans", sans-serif' font-size="25" fill="#111" textLength="251.7" lengthAdjust="spacingAndGlyphs">Response magnitude</text>
<text x="129.6" y="739.2" font-family='"Liberation Serif", serif' font-weight="bold" font-size="27.5" fill="#111" textLength="286.5" lengthAdjust="spacingAndGlyphs">(a) X-direction loading</text>
<text x="589.6" y="739.2" font-family='"Liberation Serif", serif' font-weight="bold" font-size="27.5" fill="#111" textLength="285.5" lengthAdjust="spacingAndGlyphs">(b) Y-direction loading</text>
<text x="1050.1" y="739.2" font-family='"Liberation Serif", serif' font-weight="bold" font-size="27.5" fill="#111" textLength="284.6" lengthAdjust="spacingAndGlyphs">(c) Z-direction loading</text>
<text x="248.0" y="211.3" font-family='"Liberation Sans", sans-serif' font-weight="normal" font-size="22.0" fill="#111" stroke="#111" stroke-width="0.25" textLength="93.2" lengthAdjust="spacingAndGlyphs">Mode 12</text>
<text x="248.2" y="241.6" font-family='"Liberation Sans", sans-serif' font-weight="normal" font-size="22.0" fill="#111" stroke="#111" stroke-width="0.25" textLength="148.2" lengthAdjust="spacingAndGlyphs">Freq.= 32.1 Hz</text>
<text x="248.1" y="272.0" font-family='"Liberation Sans", sans-serif' font-weight="normal" font-size="22.0" fill="#111" stroke="#111" stroke-width="0.25" textLength="129.0" lengthAdjust="spacingAndGlyphs">Mag.= 0.199</text>
<text x="300.7" y="460.9" font-family='"Liberation Sans", sans-serif' font-weight="normal" font-size="22.0" fill="#111" stroke="#111" stroke-width="0.25" textLength="93.8" lengthAdjust="spacingAndGlyphs">Mode 22</text>
<text x="300.9" y="491.6" font-family='"Liberation Sans", sans-serif' font-weight="normal" font-size="22.0" fill="#111" stroke="#111" stroke-width="0.25" textLength="147.5" lengthAdjust="spacingAndGlyphs">Freq.= 53.7 Hz</text>
<text x="300.8" y="522.0" font-family='"Liberation Sans", sans-serif' font-weight="normal" font-size="22.0" fill="#111" stroke="#111" stroke-width="0.25" textLength="141.0" lengthAdjust="spacingAndGlyphs">Mag.= 0.0211</text>
<text x="605.7" y="203.6" font-family='"Liberation Sans", sans-serif' font-weight="normal" font-size="22.0" fill="#111" stroke="#111" stroke-width="0.25" textLength="81.2" lengthAdjust="spacingAndGlyphs">Mode 2</text>
<text x="605.9" y="234.3" font-family='"Liberation Sans", sans-serif' font-weight="normal" font-size="22.0" fill="#111" stroke="#111" stroke-width="0.25" textLength="148.2" lengthAdjust="spacingAndGlyphs">Freq.= 11.3 Hz</text>
<text x="605.8" y="264.0" font-family='"Liberation Sans", sans-serif' font-weight="normal" font-size="22.0" fill="#111" stroke="#111" stroke-width="0.25" textLength="142.2" lengthAdjust="spacingAndGlyphs">Mag.= 0.0383</text>
<text x="780.5" y="299.5" font-family='"Liberation Sans", sans-serif' font-weight="normal" font-size="22.0" fill="#111" stroke="#111" stroke-width="0.25" textLength="93.7" lengthAdjust="spacingAndGlyphs">Mode 25</text>
<text x="780.7" y="330.0" font-family='"Liberation Sans", sans-serif' font-weight="normal" font-size="22.0" fill="#111" stroke="#111" stroke-width="0.25" textLength="149.2" lengthAdjust="spacingAndGlyphs">Freq.= 59.1 Hz</text>
<text x="780.6" y="359.6" font-family='"Liberation Sans", sans-serif' font-weight="normal" font-size="22.0" fill="#111" stroke="#111" stroke-width="0.25" textLength="142.4" lengthAdjust="spacingAndGlyphs">Mag.= 0.0175</text>
<text x="1038.0" y="194.7" font-family='"Liberation Sans", sans-serif' font-weight="normal" font-size="22.0" fill="#111" stroke="#111" stroke-width="0.25" textLength="79.8" lengthAdjust="spacingAndGlyphs">Mode 1</text>
<text x="1038.2" y="224.7" font-family='"Liberation Sans", sans-serif' font-weight="normal" font-size="22.0" fill="#111" stroke="#111" stroke-width="0.25" textLength="147.6" lengthAdjust="spacingAndGlyphs">Freq.= 6.68 Hz</text>
<text x="1038.1" y="255.3" font-family='"Liberation Sans", sans-serif' font-weight="normal" font-size="22.0" fill="#111" stroke="#111" stroke-width="0.25" textLength="115.5" lengthAdjust="spacingAndGlyphs">Mag.= 3.30</text>
<text x="1170.0" y="292.3" font-family='"Liberation Sans", sans-serif' font-weight="normal" font-size="22.0" fill="#111" stroke="#111" stroke-width="0.25" textLength="93.9" lengthAdjust="spacingAndGlyphs">Mode 12</text>
<text x="1170.2" y="323.0" font-family='"Liberation Sans", sans-serif' font-weight="normal" font-size="22.0" fill="#111" stroke="#111" stroke-width="0.25" textLength="149.0" lengthAdjust="spacingAndGlyphs">Freq.= 32.1 Hz</text>
<text x="1170.1" y="353.0" font-family='"Liberation Sans", sans-serif' font-weight="normal" font-size="22.0" fill="#111" stroke="#111" stroke-width="0.25" textLength="116.3" lengthAdjust="spacingAndGlyphs">Mag.= 3.21</text>
<line x1="346.4" y1="537.0" x2="346.4" y2="580.0" stroke="#111" stroke-width="1.6"/><polygon points="340.6,579.0 352.2,579.0 346.4,590.5" fill="#111"/>
<line x1="836.9" y1="372.0" x2="836.9" y2="405.0" stroke="#111" stroke-width="1.6"/><polygon points="831.1,404.0 842.7,404.0 836.9,415.5" fill="#111"/>
<text x="130.2" y="21.5" font-family='"Liberation Sans", sans-serif' font-weight="normal" font-size="21.8" fill="#111" stroke="#111" stroke-width="0.20" textLength="93.7" lengthAdjust="spacingAndGlyphs">Mode 12</text>
<text x="345.8" y="21.5" font-family='"Liberation Sans", sans-serif' font-weight="normal" font-size="21.8" fill="#111" stroke="#111" stroke-width="0.20" textLength="92.3" lengthAdjust="spacingAndGlyphs">Mode 22</text>
<text x="589.4" y="21.5" font-family='"Liberation Sans", sans-serif' font-weight="normal" font-size="21.8" fill="#111" stroke="#111" stroke-width="0.20" textLength="79.8" lengthAdjust="spacingAndGlyphs">Mode 2</text>
<text x="808.9" y="21.5" font-family='"Liberation Sans", sans-serif' font-weight="normal" font-size="21.8" fill="#111" stroke="#111" stroke-width="0.20" textLength="93.6" lengthAdjust="spacingAndGlyphs">Mode 25</text>
<text x="1031.9" y="21.5" font-family='"Liberation Sans", sans-serif' font-weight="normal" font-size="21.8" fill="#111" stroke="#111" stroke-width="0.20" textLength="80.2" lengthAdjust="spacingAndGlyphs">Mode 1</text>
<text x="1246.0" y="21.5" font-family='"Liberation Sans", sans-serif' font-weight="normal" font-size="21.8" fill="#111" stroke="#111" stroke-width="0.20" textLength="93.3" lengthAdjust="spacingAndGlyphs">Mode 12</text>
<defs><filter id="blur2" x="-20%" y="-20%" width="140%" height="140%"><feGaussianBlur stdDeviation="1.5"/></filter><filter id="blur1" x="-30%" y="-30%" width="160%" height="160%"><feGaussianBlur stdDeviation="1.1"/></filter><filter id="blur05" x="-30%" y="-30%" width="160%" height="160%"><feGaussianBlur stdDeviation="0.6"/></filter></defs>
<g filter="url(#blur05)">
<g><polygon points="49.3,44.4 191.6,36.8 201.7,33.4 233.7,33.4 242.1,36.0 250.0,52.0 252.2,58.7 257.3,44.4 264.0,44.4 270.7,89.0 266.0,91.0 266.5,117.5 252.0,121.5 225.3,126.9 105.7,121.8 82.1,100.8 55.2,65.4 50.1,50.3" fill="#0518ea"/>
<polygon points="49.3,44.4 191.6,36.8 201.7,33.4 233.7,33.4 242.1,36.0 250.0,52.0 244.0,58.0 62.0,58.0 50.1,50.3" fill="#0010c8" opacity="0.55"/>
<polygon points="257.3,44.4 264.0,44.4 270.7,89.0 264.0,90.7 258.0,60.0" fill="#0010c0"/>
<polyline points="105.7,121.8 225.3,126.9 252.0,121.5 266.5,117.5" fill="none" stroke="#0006a8" stroke-width="1.5" opacity="0.8"/>
<ellipse cx="214.0" cy="41.0" rx="14.0" ry="6.0" transform="rotate(0.0 214.0 41.0)" fill="#2a6ee8" opacity="1.00"/>
<g filter="url(#blur2)">
<polygon points="64.0,58.5 216.8,57.5 232.0,64.0 242.1,77.0 245.5,100.0 244.0,113.0 232.0,121.0 104.0,120.2 62.6,61.0" fill="#18a0e0"/>
<polygon points="72.0,64.0 72.0,64.0 106.2,63.6 174.8,62.9 215.2,66.9 227.8,75.6 235.0,87.2 237.0,101.8 234.2,110.9 226.8,114.6 192.9,116.4 132.6,116.1 102.5,116.0 102.5,116.0 94.4,103.8 78.1,79.2 70.0,67.0 70.0,67.0 70.5,66.2 71.5,64.8" fill="#14c83c"/>
<polygon points="83.0,72.5 206.0,70.0 220.0,88.0 223.5,104.0 215.5,109.5 105.0,109.0 81.0,75.5" fill="#d8d000"/>
<polygon points="86.0,76.0 205.5,73.5 216.0,90.0 219.5,102.0 214.5,107.5 106.0,107.0 84.5,79.0" fill="#f07000"/>
<polygon points="89.0,79.0 205.0,76.0 209.0,84.0 214.0,91.0 213.0,95.0 217.0,101.0 213.5,104.5 107.0,104.5" fill="#c40000"/>
</g></g>
<g transform="translate(1131,2)"><polygon points="49.3,44.4 191.6,36.8 201.7,33.4 233.7,33.4 242.1,36.0 250.0,52.0 252.2,58.7 257.3,44.4 264.0,44.4 270.7,89.0 266.0,91.0 266.5,117.5 252.0,121.5 225.3,126.9 105.7,121.8 82.1,100.8 55.2,65.4 50.1,50.3" fill="#0518ea"/>
<polygon points="49.3,44.4 191.6,36.8 201.7,33.4 233.7,33.4 242.1,36.0 250.0,52.0 244.0,58.0 62.0,58.0 50.1,50.3" fill="#0010c8" opacity="0.55"/>
<polygon points="257.3,44.4 264.0,44.4 270.7,89.0 264.0,90.7 258.0,60.0" fill="#0010c0"/>
<polyline points="105.7,121.8 225.3,126.9 252.0,121.5 266.5,117.5" fill="none" stroke="#0006a8" stroke-width="1.5" opacity="0.8"/>
<ellipse cx="214.0" cy="41.0" rx="14.0" ry="6.0" transform="rotate(0.0 214.0 41.0)" fill="#2a6ee8" opacity="1.00"/>
<g filter="url(#blur2)">
<polygon points="64.0,58.5 216.8,57.5 232.0,64.0 242.1,77.0 245.5,100.0 244.0,113.0 232.0,121.0 104.0,120.2 62.6,61.0" fill="#18a0e0"/>
<polygon points="72.0,64.0 72.0,64.0 106.2,63.6 174.8,62.9 215.2,66.9 227.8,75.6 235.0,87.2 237.0,101.8 234.2,110.9 226.8,114.6 192.9,116.4 132.6,116.1 102.5,116.0 102.5,116.0 94.4,103.8 78.1,79.2 70.0,67.0 70.0,67.0 70.5,66.2 71.5,64.8" fill="#14c83c"/>
<polygon points="83.0,72.5 206.0,70.0 220.0,88.0 223.5,104.0 215.5,109.5 105.0,109.0 81.0,75.5" fill="#d8d000"/>
<polygon points="86.0,76.0 205.5,73.5 216.0,90.0 219.5,102.0 214.5,107.5 106.0,107.0 84.5,79.0" fill="#f07000"/>
<polygon points="89.0,79.0 205.0,76.0 209.0,84.0 214.0,91.0 213.0,95.0 217.0,101.0 213.5,104.5 107.0,104.5" fill="#c40000"/>
</g></g>
<g><polygon points="286.4,92.2 285.6,87.4 289.6,81.0 344.0,33.0 350.0,30.0 355.2,29.0 435.3,49.8 443.3,49.0 468.9,57.0 472.0,66.6 478.5,68.2 480.0,71.4 475.3,85.8 476.9,92.2 470.5,95.4 440.0,133.8 430.4,135.4 416.0,129.8 401.6,127.4 390.4,133.8 287.0,97.0" fill="#0518ea"/>
<polygon points="327.5,42.5 329.0,38.6 334.0,38.4 335.5,40.5 333.0,43.0" fill="#0010d8"/>
<polygon points="294.7,69.8 296.0,65.8 300.5,65.6 302.0,68.0 299.5,71.0" fill="#0010d8"/>
<polygon points="286.0,89.0 390.4,128.5 401.6,122.0 416.0,124.5 430.4,130.0 440.0,128.5 471.0,88.0 476.9,92.2 470.5,95.4 440.0,133.8 430.4,135.4 416.0,129.8 401.6,127.4 390.4,133.8 287.0,97.0" fill="#0006b4" opacity="0.75"/>
<polygon points="472.0,66.6 478.5,68.2 480.0,71.4 475.3,85.8 476.9,92.2 470.5,95.4 440.0,133.8 436.0,133.0 468.0,90.0 470.0,72.0" fill="#0006b4" opacity="0.8"/>
<polyline points="285.6,87.4 289.6,81.0 344.0,33.0 350.0,30.0 355.2,29.0 435.3,49.8 443.3,49.0 468.9,57.0 472.0,66.6" fill="none" stroke="#0008c0" stroke-width="2" opacity="0.7"/>
<polygon points="412.0,65.0 437.0,51.0 466.0,59.0 470.0,72.0 440.0,126.0 428.0,131.0 416.0,125.0" fill="#0008c8" opacity="0.3" filter="url(#blur2)"/></g>
<g><polygon points="525.7,95.3 526.5,89.0 529.1,86.2 588.0,36.3 593.0,33.8 599.4,32.9 678.8,54.0 681.6,53.3 685.8,53.3 709.6,61.0 713.8,66.6 715.2,73.6 720.8,72.9 724.3,75.7 720.8,80.6 718.0,86.2 694.2,132.4 685.8,138.0 676.0,140.8 666.2,138.0 650.8,132.4 642.4,133.8 634.0,138.0 628.4,140.8 526.5,98.5" fill="#0518ea"/>
<polygon points="568.8,47.8 570.5,43.6 575.5,43.2 577.0,45.5 574.5,48.5" fill="#0010d8"/>
<polygon points="535.9,74.5 537.5,70.2 542.5,69.8 544.0,72.2 541.5,75.5" fill="#0010d8"/>
<polygon points="525.7,93.0 628.4,135.5 634.0,133.0 642.4,128.8 650.8,127.6 666.2,133.0 676.0,135.8 685.8,133.0 694.2,127.6 715.0,82.0 718.0,86.2 694.2,132.4 685.8,138.0 676.0,140.8 666.2,138.0 650.8,132.4 642.4,133.8 634.0,138.0 628.4,140.8 526.5,98.5" fill="#0006b4" opacity="0.75"/>
<polygon points="715.2,73.6 720.8,72.9 724.3,75.7 720.8,80.6 718.0,86.2 694.2,132.4 690.0,133.0 713.0,84.0" fill="#0006b4" opacity="0.8"/>
<polyline points="526.5,89.0 529.1,86.2 588.0,36.3 593.0,33.8 599.4,32.9 678.8,54.0 685.8,53.3 709.6,61.0 713.8,66.6 715.2,73.6" fill="none" stroke="#0008c0" stroke-width="2" opacity="0.7"/>
<polygon points="660.0,70.0 681.6,55.0 709.6,62.0 713.0,75.0 692.0,126.0 676.0,133.0 664.0,126.0" fill="#0008c8" opacity="0.3" filter="url(#blur2)"/></g>
<g transform="matrix(0.9914 0 0 0.9824 225.2 4.68)"><polygon points="525.7,95.3 526.5,89.0 529.1,86.2 588.0,36.3 593.0,33.8 599.4,32.9 678.8,54.0 681.6,53.3 685.8,53.3 709.6,61.0 713.8,66.6 715.2,73.6 720.8,72.9 724.3,75.7 720.8,80.6 718.0,86.2 694.2,132.4 685.8,138.0 676.0,140.8 666.2,138.0 650.8,132.4 642.4,133.8 634.0,138.0 628.4,140.8 526.5,98.5" fill="#0518ea"/>
<polygon points="568.8,47.8 570.5,43.6 575.5,43.2 577.0,45.5 574.5,48.5" fill="#0010d8"/>
<polygon points="535.9,74.5 537.5,70.2 542.5,69.8 544.0,72.2 541.5,75.5" fill="#0010d8"/>
<polygon points="525.7,93.0 628.4,135.5 634.0,133.0 642.4,128.8 650.8,127.6 666.2,133.0 676.0,135.8 685.8,133.0 694.2,127.6 715.0,82.0 718.0,86.2 694.2,132.4 685.8,138.0 676.0,140.8 666.2,138.0 650.8,132.4 642.4,133.8 634.0,138.0 628.4,140.8 526.5,98.5" fill="#0006b4" opacity="0.75"/>
<polygon points="715.2,73.6 720.8,72.9 724.3,75.7 720.8,80.6 718.0,86.2 694.2,132.4 690.0,133.0 713.0,84.0" fill="#0006b4" opacity="0.8"/>
<polyline points="526.5,89.0 529.1,86.2 588.0,36.3 593.0,33.8 599.4,32.9 678.8,54.0 685.8,53.3 709.6,61.0 713.8,66.6 715.2,73.6" fill="none" stroke="#0008c0" stroke-width="2" opacity="0.7"/>
<polygon points="660.0,70.0 681.6,55.0 709.6,62.0 713.0,75.0 692.0,126.0 676.0,133.0 664.0,126.0" fill="#0008c8" opacity="0.3" filter="url(#blur2)"/></g>
<g transform="matrix(0.981 0 0 0.971 460.7 3.45)"><polygon points="525.7,95.3 526.5,89.0 529.1,86.2 588.0,36.3 593.0,33.8 599.4,32.9 678.8,54.0 681.6,53.3 685.8,53.3 709.6,61.0 713.8,66.6 715.2,73.6 720.8,72.9 724.3,75.7 720.8,80.6 718.0,86.2 694.2,132.4 685.8,138.0 676.0,140.8 666.2,138.0 650.8,132.4 642.4,133.8 634.0,138.0 628.4,140.8 526.5,98.5" fill="#0518ea"/>
<polygon points="568.8,47.8 570.5,43.6 575.5,43.2 577.0,45.5 574.5,48.5" fill="#0010d8"/>
<polygon points="535.9,74.5 537.5,70.2 542.5,69.8 544.0,72.2 541.5,75.5" fill="#0010d8"/>
<polygon points="525.7,93.0 628.4,135.5 634.0,133.0 642.4,128.8 650.8,127.6 666.2,133.0 676.0,135.8 685.8,133.0 694.2,127.6 715.0,82.0 718.0,86.2 694.2,132.4 685.8,138.0 676.0,140.8 666.2,138.0 650.8,132.4 642.4,133.8 634.0,138.0 628.4,140.8 526.5,98.5" fill="#0006b4" opacity="0.75"/>
<polygon points="715.2,73.6 720.8,72.9 724.3,75.7 720.8,80.6 718.0,86.2 694.2,132.4 690.0,133.0 713.0,84.0" fill="#0006b4" opacity="0.8"/>
<polyline points="526.5,89.0 529.1,86.2 588.0,36.3 593.0,33.8 599.4,32.9 678.8,54.0 685.8,53.3 709.6,61.0 713.8,66.6 715.2,73.6" fill="none" stroke="#0008c0" stroke-width="2" opacity="0.7"/>
<polygon points="660.0,70.0 681.6,55.0 709.6,62.0 713.0,75.0 692.0,126.0 676.0,133.0 664.0,126.0" fill="#0008c8" opacity="0.3" filter="url(#blur2)"/></g>
</g>
<g filter="url(#blur1)"><ellipse cx="424.8" cy="77.8" rx="9.0" ry="5.5" transform="rotate(-30.0 424.8 77.8)" fill="#2a6ee8" opacity="1.00"/><ellipse cx="436.0" cy="61.4" rx="4.0" ry="2.0" transform="rotate(-10.0 436.0 61.4)" fill="#2a6ee8" opacity="1.00"/><polygon points="442.0,90.0 456.0,72.0 458.5,74.0 444.5,92.0" fill="#2a6ee8" opacity="0.7"/><polygon points="457.0,82.0 465.0,73.0 468.0,76.0 462.0,98.0 455.0,100.0" fill="#10c0d8"/><polygon points="466.0,96.0 473.0,88.0 477.0,94.0 470.0,102.0" fill="#e0c000"/><polygon points="471.0,92.0 475.0,89.0 477.5,95.0 473.0,97.0" fill="#ff5000"/></g>
<g filter="url(#blur1)"><ellipse cx="626.0" cy="62.5" rx="38.0" ry="12.0" transform="rotate(15.0 626.0 62.5)" fill="#0f98f0" opacity="1.00"/>
<ellipse cx="626.0" cy="62.5" rx="33.4" ry="10.6" transform="rotate(15.0 626.0 62.5)" fill="#00d0d0" opacity="1.00"/>
<ellipse cx="626.0" cy="62.5" rx="29.6" ry="9.4" transform="rotate(15.0 626.0 62.5)" fill="#18d020" opacity="1.00"/>
<ellipse cx="626.5" cy="62.8" rx="24.3" ry="7.7" transform="rotate(15.0 626.5 62.8)" fill="#a8e000" opacity="1.00"/>
<ellipse cx="627.0" cy="63.0" rx="20.5" ry="6.5" transform="rotate(15.0 627.0 63.0)" fill="#ffd000" opacity="1.00"/>
<ellipse cx="627.5" cy="63.0" rx="17.5" ry="5.5" transform="rotate(15.0 627.5 63.0)" fill="#ff6000" opacity="1.00"/>
<ellipse cx="628.0" cy="63.0" rx="14.4" ry="4.6" transform="rotate(15.0 628.0 63.0)" fill="#e80000" opacity="1.00"/><ellipse cx="608.5" cy="82.5" rx="38.0" ry="12.0" transform="rotate(15.0 608.5 82.5)" fill="#0f98f0" opacity="1.00"/>
<ellipse cx="608.5" cy="82.5" rx="33.4" ry="10.6" transform="rotate(15.0 608.5 82.5)" fill="#00d0d0" opacity="1.00"/>
<ellipse cx="608.5" cy="82.5" rx="29.6" ry="9.4" transform="rotate(15.0 608.5 82.5)" fill="#18d020" opacity="1.00"/>
<ellipse cx="609.0" cy="82.8" rx="24.3" ry="7.7" transform="rotate(15.0 609.0 82.8)" fill="#a8e000" opacity="1.00"/>
<ellipse cx="609.5" cy="83.0" rx="20.5" ry="6.5" transform="rotate(15.0 609.5 83.0)" fill="#ffd000" opacity="1.00"/>
<ellipse cx="610.0" cy="83.0" rx="17.5" ry="5.5" transform="rotate(15.0 610.0 83.0)" fill="#ff6000" opacity="1.00"/>
<ellipse cx="610.5" cy="83.0" rx="14.4" ry="4.6" transform="rotate(15.0 610.5 83.0)" fill="#e80000" opacity="1.00"/></g>
<ellipse cx="604.0" cy="79.0" rx="1.5" ry="2.0" transform="rotate(0.0 604.0 79.0)" fill="#202060" opacity="1.00"/><ellipse cx="578.0" cy="72.0" rx="1.0" ry="1.0" transform="rotate(0.0 578.0 72.0)" fill="#202060" opacity="1.00"/>
<g filter="url(#blur1)"><ellipse cx="912.9" cy="65.0" rx="9.6" ry="5.0" transform="rotate(18.0 912.9 65.0)" fill="#10a0f0" opacity="1.00"/><ellipse cx="904.9" cy="77.8" rx="9.0" ry="5.0" transform="rotate(18.0 904.9 77.8)" fill="#10a0f0" opacity="1.00"/><ellipse cx="893.6" cy="89.0" rx="11.0" ry="6.0" transform="rotate(15.0 893.6 89.0)" fill="#10a8f0" opacity="1.00"/><ellipse cx="885.6" cy="105.0" rx="11.0" ry="6.0" transform="rotate(12.0 885.6 105.0)" fill="#10a8f0" opacity="1.00"/><ellipse cx="912.9" cy="65.0" rx="5.0" ry="2.5" transform="rotate(18.0 912.9 65.0)" fill="#20c8e8" opacity="1.00"/><ellipse cx="904.9" cy="77.8" rx="5.0" ry="2.5" transform="rotate(18.0 904.9 77.8)" fill="#20c8e8" opacity="1.00"/><ellipse cx="893.6" cy="89.0" rx="6.0" ry="3.0" transform="rotate(15.0 893.6 89.0)" fill="#20d0e0" opacity="1.00"/><ellipse cx="885.6" cy="105.0" rx="6.0" ry="3.0" transform="rotate(12.0 885.6 105.0)" fill="#20d0e0" opacity="1.00"/><polygon points="876.0,116.2 889.0,118.0 890.4,132.2 877.0,127.0" fill="#10c0c8"/><ellipse cx="884.0" cy="124.0" rx="3.5" ry="4.0" transform="rotate(0.0 884.0 124.0)" fill="#30e040" opacity="1.00"/><polygon points="921.0,62.0 931.3,57.0 930.0,64.5" fill="#30d040"/><ellipse cx="856.8" cy="69.8" rx="5.5" ry="1.8" transform="rotate(15.0 856.8 69.8)" fill="#2a70e8" opacity="1.00"/><ellipse cx="876.0" cy="72.2" rx="3.0" ry="1.8" transform="rotate(15.0 876.0 72.2)" fill="#2a70e8" opacity="1.00"/><ellipse cx="842.4" cy="88.2" rx="6.0" ry="1.8" transform="rotate(15.0 842.4 88.2)" fill="#2a70e8" opacity="1.00"/><ellipse cx="854.4" cy="96.2" rx="4.0" ry="1.8" transform="rotate(15.0 854.4 96.2)" fill="#2a70e8" opacity="1.00"/></g>
<g filter="url(#blur1)"><rect x="1027" y="57" width="80" height="38" rx="17" ry="17" transform="rotate(9 1067 76)" fill="#0f98f0"/><rect x="1031" y="60" width="72" height="32" rx="15" ry="15" transform="rotate(9 1067 76)" fill="#00d0d0"/><rect x="1035" y="62.5" width="66" height="28" rx="13" ry="13" transform="rotate(9 1068 76.5)" fill="#18d020"/><ellipse cx="1070.5" cy="78.0" rx="25.0" ry="12.0" transform="rotate(10.0 1070.5 78.0)" fill="#a8e000" opacity="1.00"/><ellipse cx="1071.0" cy="78.3" rx="22.0" ry="10.5" transform="rotate(10.0 1071.0 78.3)" fill="#ffc800" opacity="1.00"/><ellipse cx="1072.0" cy="78.3" rx="19.5" ry="9.0" transform="rotate(10.0 1072.0 78.3)" fill="#ff5000" opacity="1.00"/><ellipse cx="1073.0" cy="78.2" rx="16.5" ry="7.5" transform="rotate(10.0 1073.0 78.2)" fill="#e80000" opacity="1.00"/></g>
<ellipse cx="1070.8" cy="63.4" rx="1.2" ry="1.5" transform="rotate(0.0 1070.8 63.4)" fill="#202040" opacity="1.00"/><ellipse cx="1052.4" cy="82.6" rx="1.5" ry="1.8" transform="rotate(0.0 1052.4 82.6)" fill="#202040" opacity="1.00"/>
<line x1="300.7" y1="121.4" x2="361" y2="141.8" stroke="#444" stroke-width="1.8"/>
<polygon points="370.6,146.0 361.6,137.3 358.6,147.8" fill="#111"/>
<text x="311" y="149.3" font-family='"Liberation Sans", sans-serif' font-size="22" fill="#111" stroke="#111" stroke-width="0.4" textLength="12" lengthAdjust="spacingAndGlyphs">X</text>
<line x1="553.3" y1="116" x2="534" y2="142" stroke="#444" stroke-width="1.7"/>
<polygon points="528.7,150.3 530.3,138.3 540.0,144.7" fill="#111"/>
<text x="546.8" y="151" font-family='"Liberation Sans", sans-serif' font-size="22" fill="#111" stroke="#111" stroke-width="0.4" textLength="13" lengthAdjust="spacingAndGlyphs">Y</text>
<line x1="989.2" y1="151" x2="989.2" y2="121" stroke="#555" stroke-width="1.5"/>
<polygon points="989.2,113.0 983.8,122.6 994.6,122.6" fill="#111"/>
<text x="994.5" y="142.6" font-family='"Liberation Sans", sans-serif' font-size="21" fill="#111" stroke="#111" stroke-width="0.4" textLength="11" lengthAdjust="spacingAndGlyphs">Z</text>
</svg>
</body></html>
